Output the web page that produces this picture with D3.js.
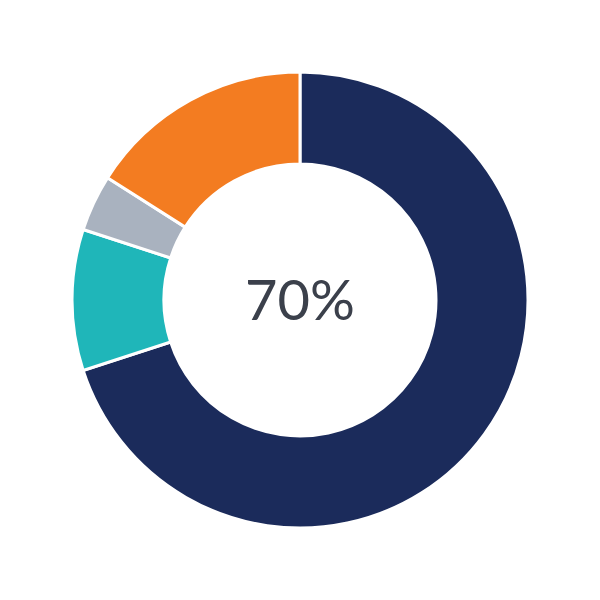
<!DOCTYPE html>
<html>
<head>
<meta charset="utf-8">
<script src="https://cdn.jsdelivr.net/npm/d3@7"></script>
<style>
  html, body { margin: 0; padding: 0; background: #fff; }
</style>
</head>
<body>
<div id="chart"></div>
<script>
// slice data, clockwise from 12 o'clock
var categories = ["Main", "Teal", "Gray", "Orange"];
var values = [70, 10, 4, 16];
var colors = ["#1b2b5b", "#1fb6b9", "#a9b2bf", "#f37c21"];
var centerLabel = "70%";

var width = 600, height = 600,
    outerRadius = 228, innerRadius = 136;

var svg = d3.select("#chart")
  .append("svg")
    .attr("width", width)
    .attr("height", height)
  .append("g")
    .attr("transform", "translate(" + (width / 2) + "," + (height / 2) + ")");

var color = d3.scaleOrdinal()
  .domain(categories)
  .range(colors);

var pie = d3.pie()
  .sort(null)
  .value(function(d, i) { return values[i]; });

var arc = d3.arc()
  .innerRadius(innerRadius)
  .outerRadius(outerRadius);

// slices
svg.selectAll("path")
  .data(pie(categories))
  .enter()
  .append("path")
    .attr("d", arc)
    .attr("fill", function(d) { return color(d.data); })
    .attr("stroke", "#fff")
    .attr("stroke-width", 3);

// center text
svg.append("text")
  .attr("text-anchor", "middle")
  .attr("dy", "0.35em")
  .attr("font-family", "Lato, sans-serif")
  .attr("font-weight", 400)
  .attr("font-size", "56px")
  .attr("fill", "#3b404b")
  .text(centerLabel);
</script>
</body>
</html>
